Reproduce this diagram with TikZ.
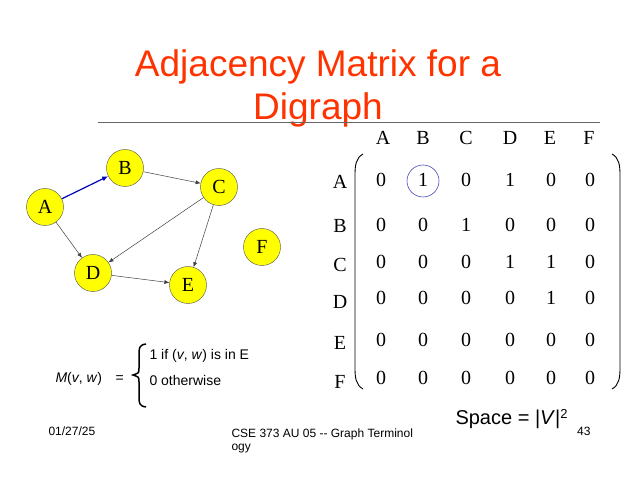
\documentclass[tikz,border=0pt]{standalone}
\usepackage{fontspec}
\setmainfont{Liberation Serif}
\newfontfamily\hv{Liberation Sans}
\usetikzlibrary{arrows.meta}
\definecolor{ttl}{RGB}{255,51,0}
\definecolor{vy}{RGB}{255,255,0}
\tikzset{
  vtx/.style={circle,draw=black!70,fill=vy,minimum size=37pt,inner sep=0pt,font=\fontsize{20}{20}\selectfont},
  edge/.style={draw=black!75,line width=0.5pt,-{Latex[length=5pt,width=4pt]}},
  mtx/.style={font=\fontsize{20}{20}\selectfont,anchor=base},
  sm/.style={font=\hv\fontsize{14}{14}\selectfont},
  ft/.style={font=\hv\fontsize{12}{13}\selectfont}
}
\begin{document}
\begin{tikzpicture}[x=1pt,y=-1pt]
\useasboundingbox[fill=white] (0,0) rectangle (638,478);
\node[font=\hv\fontsize{37}{43}\selectfont,text=ttl,align=center] (title) at (318,88) {Adjacency Matrix for a\\Digraph};
\draw[black!60,line width=0.7pt] (98,122) coordinate (l1) -- (600,122) coordinate (l2);
\node[vtx] (A) at (45,207) {A};
\node[vtx] (B) at (125,168) {B};
\node[vtx] (C) at (219,187) {C};
\node[vtx] (D) at (93,273) {D};
\node[vtx] (E) at (188,285) {E};
\node[vtx] (F) at (262,247) {F};
\draw[edge,draw=blue!75!black,line width=1.2pt,-{Latex[length=6pt,width=5pt]}] (A) -- (B);
\draw[edge] (B) -- (C);
\draw[edge] (A) -- (D);
\draw[edge] (C) -- (D);
\draw[edge] (C) -- (E);
\draw[edge] (D) -- (E);
% matrix
\foreach \l [count=\i] in {A,B,C,D,E,F}{
  \pgfmathsetmacro{\cx}{{383,423,466,510,550,589}[\i-1]}
  \node[mtx] (h\l) at (\cx,145) {\l};
}
\foreach \l/\yy [count=\i] in {A/189,B/233,C/272,D/309,E/350,F/389}{
  \node[mtx] (r\l) at (340,\yy) {\l};
}
\foreach \row/\yy/\vals in {A/187/{0,1,0,1,0,0},B/232/{0,0,1,0,0,0},C/269/{0,0,0,1,1,0},D/305/{0,0,0,0,1,0},E/347/{0,0,0,0,0,0},F/385/{0,0,0,0,0,0}}{
  \foreach \v [count=\j] in \vals {
    \pgfmathsetmacro{\cx}{{381,423,466,510,551,590}[\j-1]}
    \node[mtx] (m\row\j) at (\cx,\yy) {\v};
  }
}
\draw[blue!60!black!70,line width=0.6pt] (423,181) circle (16);
\draw[black,line width=0.9pt] (363,154) coordinate (p1) .. controls (356,158) and (355,165) .. (355,175) -- (355,368) .. controls (355,378) and (356,385) .. (363,389) coordinate (p2);
\draw[black,line width=0.9pt] (612,154) coordinate (p3) .. controls (619,158) and (620,165) .. (620,175) -- (620,368) .. controls (620,378) and (619,385) .. (612,389) coordinate (p4);
% formula
\node[sm,anchor=base west] (M) at (52,383) {\textit{M}(\textit{v}, \textit{w})};
\node[sm,anchor=base west] (eq) at (112,383) {=};
\draw[line width=1.5pt] (146,344) coordinate (b1) .. controls (139,345) and (139,348) .. (139,355) -- (139,368) .. controls (139,373) .. (133,375) .. controls (139,377) .. (139,382) -- (139,396) .. controls (139,403) and (139,406) .. (146,407) coordinate (b2);
\node[sm,anchor=base west] (c1) at (146,360) {1 if (\textit{v}, \textit{w}) is in E};
\node[sm,anchor=base west] (c2) at (146,386) {0 otherwise};
\node[font=\hv\fontsize{20}{20}\selectfont,anchor=base west] (sp) at (452,425) {Space = |\textit{V}|\raisebox{6pt}{\fontsize{13}{13}\selectfont 2}};
% footer
\node[ft,anchor=base west] (d) at (45,436) {01/27/25};
\node[ft,anchor=north west,align=left] (cse) at (228,425) {CSE 373 AU 05 -- Graph Terminol\\ogy};
\node[ft,anchor=base east] (pg) at (594,436) {43};
\end{tikzpicture}
\end{document}
